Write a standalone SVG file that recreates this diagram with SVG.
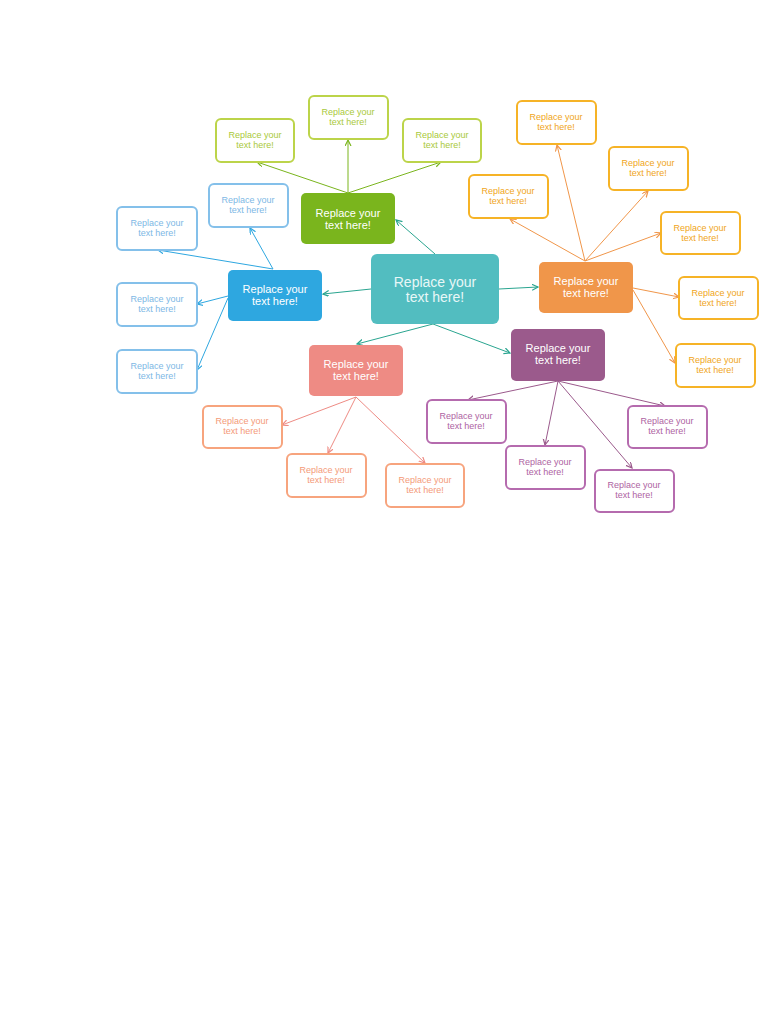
<svg xmlns="http://www.w3.org/2000/svg" width="768" height="1024" viewBox="0 0 768 1024">
<style>
text{font-family:"Liberation Sans",Arial,sans-serif;text-anchor:middle}
.main{stroke:none}
.mt{fill:#fff;font-size:11px}
.ct{fill:#e8f7f7;font-size:14px}
.ch{fill:#fff;stroke-width:2}
.cht{font-size:9px}
.g{stroke:#bcd44a}.gt{fill:#a9c93a}
.b{stroke:#84c0ea}.bt{fill:#7db8e5}
.o{stroke:#f6b326}.ot{fill:#f0a520}
.p{stroke:#b56bae}.pt{fill:#ae63a2}
.k{stroke:#f7a47e}.kt{fill:#f49a78}
#connectors line{stroke-width:1}
</style>
<defs>
<marker id="aT" markerWidth="8" markerHeight="8" refX="6" refY="3" orient="auto" markerUnits="userSpaceOnUse"><path d="M0,0 L6,3 L0,6" fill="none" stroke="#2aa590" stroke-width="1.2"/></marker>
<marker id="aG" markerWidth="8" markerHeight="8" refX="6" refY="3" orient="auto" markerUnits="userSpaceOnUse"><path d="M0,0 L6,3 L0,6" fill="none" stroke="#7ab51d" stroke-width="1.2"/></marker>
<marker id="aB" markerWidth="8" markerHeight="8" refX="6" refY="3" orient="auto" markerUnits="userSpaceOnUse"><path d="M0,0 L6,3 L0,6" fill="none" stroke="#2ea7e0" stroke-width="1.2"/></marker>
<marker id="aO" markerWidth="8" markerHeight="8" refX="6" refY="3" orient="auto" markerUnits="userSpaceOnUse"><path d="M0,0 L6,3 L0,6" fill="none" stroke="#f0964a" stroke-width="1.2"/></marker>
<marker id="aP" markerWidth="8" markerHeight="8" refX="6" refY="3" orient="auto" markerUnits="userSpaceOnUse"><path d="M0,0 L6,3 L0,6" fill="none" stroke="#9b5a8c" stroke-width="1.2"/></marker>
<marker id="aK" markerWidth="8" markerHeight="8" refX="6" refY="3" orient="auto" markerUnits="userSpaceOnUse"><path d="M0,0 L6,3 L0,6" fill="none" stroke="#ee8b84" stroke-width="1.2"/></marker>
</defs>
<rect width="768" height="1024" fill="#fff"/>
<g id="connectors">
<line x1="435" y1="254" x2="396" y2="220" stroke="#2aa590" marker-end="url(#aT)"/>
<line x1="371" y1="289" x2="323" y2="294" stroke="#2aa590" marker-end="url(#aT)"/>
<line x1="499" y1="289" x2="538" y2="287" stroke="#2aa590" marker-end="url(#aT)"/>
<line x1="433" y1="324" x2="357" y2="344" stroke="#2aa590" marker-end="url(#aT)"/>
<line x1="433" y1="324" x2="510" y2="353" stroke="#2aa590" marker-end="url(#aT)"/>
<line x1="348" y1="193" x2="257" y2="162" stroke="#7ab51d" marker-end="url(#aG)"/>
<line x1="348" y1="193" x2="348" y2="140" stroke="#7ab51d" marker-end="url(#aG)"/>
<line x1="348" y1="193" x2="441" y2="162" stroke="#7ab51d" marker-end="url(#aG)"/>
<line x1="273" y1="269" x2="250" y2="228" stroke="#2ea7e0" marker-end="url(#aB)"/>
<line x1="273" y1="269" x2="158" y2="250" stroke="#2ea7e0" marker-end="url(#aB)"/>
<line x1="228" y1="296" x2="197" y2="304" stroke="#2ea7e0" marker-end="url(#aB)"/>
<line x1="228" y1="298" x2="197" y2="370" stroke="#2ea7e0" marker-end="url(#aB)"/>
<line x1="585" y1="261" x2="557" y2="145" stroke="#f0964a" marker-end="url(#aO)"/>
<line x1="585" y1="261" x2="510" y2="219" stroke="#f0964a" marker-end="url(#aO)"/>
<line x1="585" y1="261" x2="648" y2="191" stroke="#f0964a" marker-end="url(#aO)"/>
<line x1="585" y1="261" x2="661" y2="233" stroke="#f0964a" marker-end="url(#aO)"/>
<line x1="633" y1="288" x2="679" y2="297" stroke="#f0964a" marker-end="url(#aO)"/>
<line x1="633" y1="290" x2="675" y2="363" stroke="#f0964a" marker-end="url(#aO)"/>
<line x1="558" y1="381" x2="468" y2="400" stroke="#9b5a8c" marker-end="url(#aP)"/>
<line x1="558" y1="381" x2="545" y2="445" stroke="#9b5a8c" marker-end="url(#aP)"/>
<line x1="558" y1="381" x2="632" y2="468" stroke="#9b5a8c" marker-end="url(#aP)"/>
<line x1="558" y1="381" x2="665" y2="406" stroke="#9b5a8c" marker-end="url(#aP)"/>
<line x1="356" y1="397" x2="282" y2="425" stroke="#ee8b84" marker-end="url(#aK)"/>
<line x1="356" y1="397" x2="328" y2="453" stroke="#ee8b84" marker-end="url(#aK)"/>
<line x1="356" y1="397" x2="425" y2="463" stroke="#ee8b84" marker-end="url(#aK)"/>
</g>
<g id="center"><rect x="371" y="254" width="128" height="70" rx="6" fill="#52bdc0"/><text class="ct" x="435" y="287">Replace your</text><text class="ct" x="435" y="302">text here!</text></g>
<g id="green"><rect x="301" y="193" width="94" height="51" rx="5" fill="#7ab51d"/><text class="mt" x="348" y="217">Replace your</text><text class="mt" x="348" y="229">text here!</text></g>
<g id="blue"><rect x="228" y="270" width="94" height="51" rx="5" fill="#2ea7e0"/><text class="mt" x="275" y="293">Replace your</text><text class="mt" x="275" y="305">text here!</text></g>
<g id="orange"><rect x="539" y="262" width="94" height="51" rx="5" fill="#f0964a"/><text class="mt" x="586" y="285">Replace your</text><text class="mt" x="586" y="297">text here!</text></g>
<g id="purple"><rect x="511" y="329" width="94" height="52" rx="5" fill="#9b5a8c"/><text class="mt" x="558" y="352">Replace your</text><text class="mt" x="558" y="364">text here!</text></g>
<g id="pink"><rect x="309" y="345" width="94" height="51" rx="5" fill="#ee8b84"/><text class="mt" x="356" y="368">Replace your</text><text class="mt" x="356" y="380">text here!</text></g>

<g id="g1"><rect class="ch g" x="216" y="119" width="78" height="43" rx="5"/><text class="cht gt" x="255" y="138">Replace your</text><text class="cht gt" x="255" y="148">text here!</text></g>
<g id="g2"><rect class="ch g" x="309" y="96" width="79" height="43" rx="5"/><text class="cht gt" x="348" y="115">Replace your</text><text class="cht gt" x="348" y="125">text here!</text></g>
<g id="g3"><rect class="ch g" x="403" y="119" width="78" height="43" rx="5"/><text class="cht gt" x="442" y="138">Replace your</text><text class="cht gt" x="442" y="148">text here!</text></g>

<g id="b1"><rect class="ch b" x="209" y="184" width="79" height="43" rx="5"/><text class="cht bt" x="248" y="203">Replace your</text><text class="cht bt" x="248" y="213">text here!</text></g>
<g id="b2"><rect class="ch b" x="117" y="207" width="80" height="43" rx="5"/><text class="cht bt" x="157" y="226">Replace your</text><text class="cht bt" x="157" y="236">text here!</text></g>
<g id="b3"><rect class="ch b" x="117" y="283" width="80" height="43" rx="5"/><text class="cht bt" x="157" y="302">Replace your</text><text class="cht bt" x="157" y="312">text here!</text></g>
<g id="b4"><rect class="ch b" x="117" y="350" width="80" height="43" rx="5"/><text class="cht bt" x="157" y="369">Replace your</text><text class="cht bt" x="157" y="379">text here!</text></g>

<g id="o1"><rect class="ch o" x="517" y="101" width="79" height="43" rx="5"/><text class="cht ot" x="556" y="120">Replace your</text><text class="cht ot" x="556" y="130">text here!</text></g>
<g id="o2"><rect class="ch o" x="609" y="147" width="79" height="43" rx="5"/><text class="cht ot" x="648" y="166">Replace your</text><text class="cht ot" x="648" y="176">text here!</text></g>
<g id="o3"><rect class="ch o" x="469" y="175" width="79" height="43" rx="5"/><text class="cht ot" x="508" y="194">Replace your</text><text class="cht ot" x="508" y="204">text here!</text></g>
<g id="o4"><rect class="ch o" x="661" y="212" width="79" height="42" rx="5"/><text class="cht ot" x="700" y="231">Replace your</text><text class="cht ot" x="700" y="241">text here!</text></g>
<g id="o5"><rect class="ch o" x="679" y="277" width="79" height="42" rx="5"/><text class="cht ot" x="718" y="296">Replace your</text><text class="cht ot" x="718" y="306">text here!</text></g>
<g id="o6"><rect class="ch o" x="676" y="344" width="79" height="43" rx="5"/><text class="cht ot" x="715" y="363">Replace your</text><text class="cht ot" x="715" y="373">text here!</text></g>

<g id="p1"><rect class="ch p" x="427" y="400" width="79" height="43" rx="5"/><text class="cht pt" x="466" y="419">Replace your</text><text class="cht pt" x="466" y="429">text here!</text></g>
<g id="p2"><rect class="ch p" x="506" y="446" width="79" height="43" rx="5"/><text class="cht pt" x="545" y="465">Replace your</text><text class="cht pt" x="545" y="475">text here!</text></g>
<g id="p3"><rect class="ch p" x="595" y="470" width="79" height="42" rx="5"/><text class="cht pt" x="634" y="488">Replace your</text><text class="cht pt" x="634" y="498">text here!</text></g>
<g id="p4"><rect class="ch p" x="628" y="406" width="79" height="42" rx="5"/><text class="cht pt" x="667" y="424">Replace your</text><text class="cht pt" x="667" y="434">text here!</text></g>

<g id="k1"><rect class="ch k" x="203" y="406" width="79" height="42" rx="5"/><text class="cht kt" x="242" y="424">Replace your</text><text class="cht kt" x="242" y="434">text here!</text></g>
<g id="k2"><rect class="ch k" x="287" y="454" width="79" height="43" rx="5"/><text class="cht kt" x="326" y="473">Replace your</text><text class="cht kt" x="326" y="483">text here!</text></g>
<g id="k3"><rect class="ch k" x="386" y="464" width="78" height="43" rx="5"/><text class="cht kt" x="425" y="483">Replace your</text><text class="cht kt" x="425" y="493">text here!</text></g>
</svg>
